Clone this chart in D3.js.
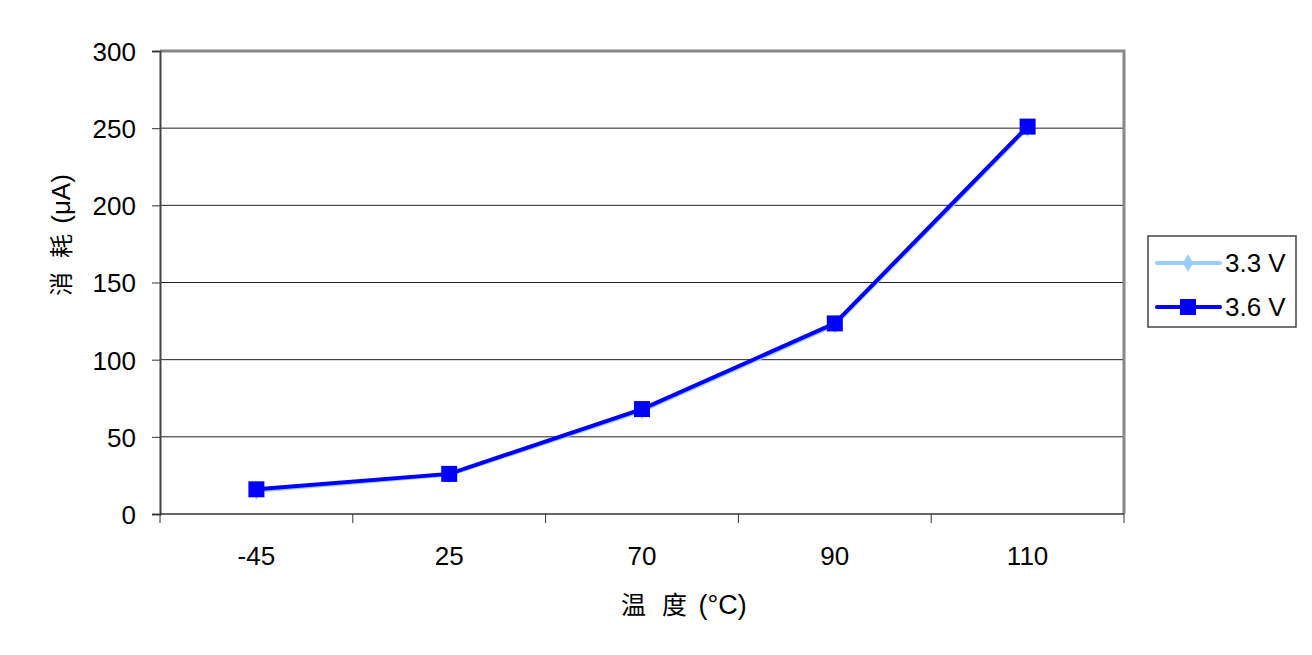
<!DOCTYPE html>
<html><head><meta charset="utf-8">
<script src="https://cdn.jsdelivr.net/npm/d3@7"></script>
<style>body{margin:0;background:#fff;} text{font-family:"Liberation Sans",Arial,sans-serif;}</style>
</head><body>
<svg id="c" width="1312" height="655"></svg>
<script>
const categories = ["-45","25","70","90","110"];
const series33 = [15, 25.5, 67, 122.5, 250];
const series36 = [16, 26, 68, 123.5, 251];
const yTicks = [0,50,100,150,200,250,300];

const svg = d3.select("#c");
const L=160,R=1124,T=51,B=514;
const FS=26;
const x = d3.scaleBand().domain(categories).range([L,R]);
const y = d3.scaleLinear().domain([0,300]).range([B,T]);
const cx = d=>x(d)+x.bandwidth()/2;

// gridlines
svg.append("g").selectAll("line").data(yTicks.filter(v=>v>0&&v<300)).join("line")
 .attr("x1",L).attr("x2",R).attr("y1",d=>y(d)).attr("y2",d=>y(d))
 .attr("stroke","#222").attr("stroke-width",1);
// plot border top/right
svg.append("path").attr("d",`M${L},${T}H${R}V${B}`).attr("fill","none").attr("stroke","#888").attr("stroke-width",3);

// y axis
const ya = svg.append("g").attr("transform",`translate(${L},0)`)
 .call(d3.axisLeft(y).tickValues(yTicks).tickSize(8).tickPadding(16));
ya.attr("font-size",null).attr("font-family",null);
ya.select(".domain").attr("stroke","#444").attr("stroke-width",2);
ya.selectAll(".tick line").attr("stroke","#333");
ya.selectAll("text").style("font-size",FS+"px").attr("fill","#000").attr("dy","0.36em");

// x axis
const boundaries = categories.map(c=>x(c)).concat([R]);
svg.append("line").attr("x1",L).attr("x2",R).attr("y1",B).attr("y2",B).attr("stroke","#333").attr("stroke-width",1.5);
svg.append("g").selectAll("line").data(boundaries).join("line")
 .attr("x1",d=>d).attr("x2",d=>d).attr("y1",B).attr("y2",B+9).attr("stroke","#333");
svg.append("g").selectAll("text").data(categories).join("text")
 .attr("x",d=>cx(d)).attr("y",565).attr("text-anchor","middle").style("font-size",FS+"px").text(d=>d);

// titles
const cjk = "'Noto Sans CJK SC','Liberation Sans',sans-serif";
const xt = svg.append("text").attr("x",621).attr("y",614).style("font-size","25px").style("font-family",cjk);
xt.append("tspan").text("温");
xt.append("tspan").attr("dx",16).text("度");
xt.append("tspan").style("font-family","'Liberation Sans',sans-serif").style("font-size","27px").attr("dx",4).text(" (°C)");

const yt = svg.append("text").attr("transform","translate(70,296) rotate(-90)").style("font-size","24px").style("font-family",cjk);
yt.append("tspan").text("消");
yt.append("tspan").attr("dx",14).text("耗");
yt.append("tspan").style("font-family","'Liberation Sans',sans-serif").style("font-size","26px").attr("dx",3).text(" (μA)");

const line = d3.line().x((d,i)=>cx(categories[i])).y(d=>y(d));
// 3.3V
svg.append("path").datum(series33).attr("d",line).attr("fill","none").attr("stroke","#99ccff").attr("stroke-width",4);
svg.append("g").selectAll("path").data(series33).join("path")
 .attr("transform",(d,i)=>`translate(${cx(categories[i])},${y(d)})`)
 .attr("d",d3.symbol(d3.symbolDiamond,90)()).attr("fill","#99ccff");
// 3.6V
svg.append("path").datum(series36).attr("d",line).attr("fill","none").attr("stroke","#0000ff").attr("stroke-width",4);
svg.append("g").selectAll("rect").data(series36).join("rect")
 .attr("x",(d,i)=>cx(categories[i])-8).attr("y",d=>y(d)-8).attr("width",16).attr("height",16).attr("fill","#0000ff");

// legend
const lg = svg.append("g");
lg.append("rect").attr("x",1148).attr("y",236).attr("width",148).attr("height",91).attr("fill","#fff").attr("stroke","#444").attr("stroke-width",1.5);
const items=[{n:"3.3 V",c:"#99ccff",s:"d",yy:263},{n:"3.6 V",c:"#0000ff",s:"s",yy:307}];
items.forEach(it=>{
 lg.append("line").attr("x1",1157).attr("x2",1220).attr("y1",it.yy).attr("y2",it.yy).attr("stroke",it.c).attr("stroke-width",4).attr("stroke-linecap","round");
 if(it.s==="d") lg.append("path").attr("transform",`translate(1188,${it.yy})`).attr("d",d3.symbol(d3.symbolDiamond,90)()).attr("fill",it.c);
 else lg.append("rect").attr("x",1180).attr("y",it.yy-8).attr("width",16).attr("height",16).attr("fill",it.c);
 lg.append("text").attr("x",1225).attr("y",it.yy+9).style("font-size",FS+"px").text(it.n);
});
</script>
</body></html>
